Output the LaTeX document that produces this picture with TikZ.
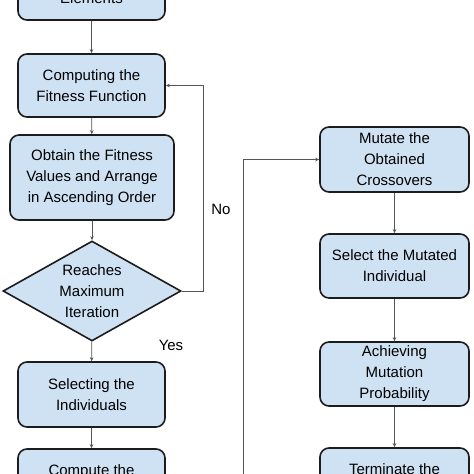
\documentclass[tikz,border=0pt]{standalone}
\usepackage{fontspec}
\setmainfont{Liberation Sans}
\usetikzlibrary{shapes.geometric,arrows.meta}
\definecolor{boxblue}{HTML}{CFE2F3}
\definecolor{boxline}{HTML}{1C1C1C}
\definecolor{arrowgray}{HTML}{555555}
\tikzset{
  stepbox/.style={draw=boxline, fill=boxblue, line width=1.6pt, rounded corners=9pt,
    align=center, inner sep=0pt, minimum width=147pt, minimum height=64pt},
  decision/.style={draw=boxline, fill=boxblue, line width=1.6pt, diamond, aspect=1.78,
    align=center, inner sep=0pt, minimum width=178pt, minimum height=100pt},
  flow/.style={draw=arrowgray, line width=0.8pt, -{Stealth[length=4pt,width=3.5pt]}},
  txt/.style={font=\fontsize{15}{21}\selectfont}
}
\begin{document}
\begin{tikzpicture}[x=1pt,y=-1pt,every node/.style={txt}]
\useasboundingbox (0,0) rectangle (474,474);
\clip (0,0) rectangle (474,474);

% left column
\node[stepbox, minimum height=63pt] (init) at (91.5,-11.5) {};
\node (initText) at (91.5,-2) {Elements};
\node[stepbox, minimum height=63pt] (fitness) at (91.5,85.5) {Computing the\\Fitness Function};
\node[stepbox, minimum width=164pt, minimum height=85pt] (sort) at (92,177.5) {Obtain the Fitness\\Values and Arrange\\in Ascending Order};
\node[decision] (check) at (92,291) {Reaches\\Maximum\\Iteration};
\node[stepbox, minimum height=65pt] (select) at (91.5,394.5) {Selecting the\\Individuals};
\node[stepbox, minimum height=91pt] (compute) at (91.5,494.5) {Compute the\\\strut\\\strut};

% right column
\node[stepbox, minimum width=149pt, minimum height=65pt] (mutate) at (394.5,159.5) {Mutate the\\Obtained\\Crossovers};
\node[stepbox, minimum width=149pt, minimum height=64pt] (pick) at (394.5,266) {Select the Mutated\\Individual};
\node[stepbox, minimum width=149pt, minimum height=64pt] (prob) at (394.5,374) {Achieving\\Mutation\\Probability};
\node[stepbox, minimum width=149pt, minimum height=91pt] (stop) at (394.5,493.5) {Terminate the\\\strut\\\strut};

\draw[flow] (init) -- (fitness);
\draw[flow] (fitness) -- (sort);
\draw[flow] (sort) -- (check);
\draw[flow] (check) -- (select);
\draw[flow] (select) -- (compute);
\draw[flow] (check.east) -- ++(22,0) |- (fitness.east);
\node (no) at (221,209) {No};
\node (yes) at (171,345) {Yes};

\coordinate (cross) at (243,520);
\draw[flow] (cross) |- (mutate.west);
\draw[flow] (mutate) -- (pick);
\draw[flow] (pick) -- (prob);
\draw[flow] (prob) -- (stop);
\end{tikzpicture}
\end{document}
